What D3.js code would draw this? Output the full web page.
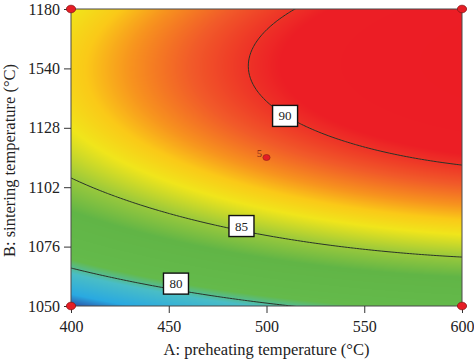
<!DOCTYPE html>
<html>
<head>
<meta charset="utf-8">
<script src="https://cdn.jsdelivr.net/npm/d3@7"></script>
<style>
  body { margin: 0; background: #fff; }
  svg { display: block; font-family: "Liberation Serif", "DejaVu Serif", serif; }
</style>
</head>
<body>
<svg id="chart" width="474" height="360"></svg>
<script>
// axis ranges and ticks (the 1540 label is as printed in the original)
const xDomain = [400, 600];
const yDomain = [1050, 1180];
const xTicks = [400, 450, 500, 550, 600];
const yTicks = [1050, 1076, 1102, 1128, 1154, 1180];
const yTickLabels = ['1050', '1076', '1102', '1128', '1540', '1180'];

// quadratic response model in coded units: [b0, A, B, AB, A^2, B^2]
const coef = [88.7, 2.275, 4.95, 0.235, -0.7, -4.0];
const centerA = 500, halfA = 100;
const centerB = 1115, halfB = 65;

const contourLevels = [80, 85, 90];
// label positions on the contour lines [A, B, level]
const contourLabels = [[453.7, 1059.8, 80], [487.2, 1085.0, 85], [509.5, 1133.2, 90]];
const designPoints = [[400, 1050], [600, 1050], [400, 1180], [600, 1180]];
const centerPoint = [500, 1115];
const centerReps = 5;

// colour ramp
const colorValues = [77, 78, 79.6, 80.6, 83.5, 85, 86.5, 87.4, 88.2, 89.2, 90.4, 93];
const colorRange = ['#2b4fa5', '#29a9e1', '#49bdc6', '#64ba4b', '#61b546', '#98c83c',
  '#f0e51b', '#fac918', '#f7931e', '#f15a29', '#ec1e25', '#ec1c24'];

const margin = { left: 71, top: 9, right: 12, bottom: 54 };
const W = 474, H = 360;
const pw = W - margin.left - margin.right; // 391
const ph = H - margin.top - margin.bottom; // 297

const x = d3.scaleLinear().domain(xDomain).range([0, pw]);
const y = d3.scaleLinear().domain(yDomain).range([ph, 0]);
const color = d3.scaleLinear().domain(colorValues).range(colorRange).clamp(true);

const model = (a, b) => {
  const cx = (a - centerA) / halfA, cy = (b - centerB) / halfB;
  return coef[0] + coef[1] * cx + coef[2] * cy + coef[3] * cx * cy
    + coef[4] * cx * cx + coef[5] * cy * cy;
};

const svg = d3.select('#chart');
const g = svg.append('g').attr('transform', `translate(${margin.left},${margin.top})`);

g.append('clipPath').attr('id', 'plot-clip')
  .append('rect').attr('width', pw).attr('height', ph);

// surface, painted per pixel onto a canvas
const canvas = document.createElement('canvas');
canvas.width = pw; canvas.height = ph;
const ctx = canvas.getContext('2d');
const img = ctx.createImageData(pw, ph);
for (let j = 0; j < ph; j++) {
  for (let i = 0; i < pw; i++) {
    const c = d3.rgb(color(model(x.invert(i + 0.5), y.invert(j + 0.5))));
    const k = (j * pw + i) * 4;
    img.data[k] = c.r; img.data[k + 1] = c.g; img.data[k + 2] = c.b; img.data[k + 3] = 255;
  }
}
ctx.putImageData(img, 0, 0);
g.append('image')
  .attr('width', pw).attr('height', ph)
  .attr('preserveAspectRatio', 'none')
  .attr('href', canvas.toDataURL());

// contour lines on a grid that runs a bit past the plot, then clipped
const nx = 160, ny = 120;
const a0 = 380, a1 = 620, b0 = 1190, b1 = 1040;
const dA = (a1 - a0) / (nx - 1), dB = (b1 - b0) / (ny - 1);
const grid = new Array(nx * ny);
for (let j = 0; j < ny; j++) {
  for (let i = 0; i < nx; i++) grid[j * nx + i] = model(a0 + i * dA, b0 + j * dB);
}
const contours = d3.contours().size([nx, ny]).thresholds(contourLevels)(grid);
const proj = d3.geoTransform({
  point(px, py) {
    this.stream.point(x(a0 + (px - 0.5) * dA), y(b0 + (py - 0.5) * dB));
  }
});
g.append('g').attr('clip-path', 'url(#plot-clip)')
  .selectAll('path')
  .data(contours)
  .join('path')
  .attr('d', d3.geoPath(proj))
  .attr('fill', 'none')
  .attr('stroke', '#2a3328')
  .attr('stroke-width', 1);

// frame
g.append('rect')
  .attr('width', pw).attr('height', ph)
  .attr('fill', 'none')
  .attr('stroke', '#4a4a4a')
  .attr('stroke-width', 1);

// contour labels
const lab = g.selectAll('.clab')
  .data(contourLabels)
  .join('g')
  .attr('class', 'clab')
  .attr('transform', d => `translate(${x(d[0])},${y(d[1])})`);
lab.append('rect')
  .attr('x', -12.5).attr('y', -10.5)
  .attr('width', 25).attr('height', 21)
  .attr('fill', '#fff')
  .attr('stroke', '#111')
  .attr('stroke-width', 1.4);
lab.append('text')
  .attr('text-anchor', 'middle')
  .attr('dy', '0.35em')
  .attr('font-size', 13)
  .attr('fill', '#222')
  .text(d => d[2]);

// axes
const yAxis = d3.axisLeft(y)
  .tickValues(yTicks)
  .tickFormat((d, i) => yTickLabels[i])
  .tickSize(7).tickSizeOuter(0).tickPadding(4);
const xAxis = d3.axisBottom(x)
  .tickValues(xTicks)
  .tickFormat(d3.format('d'))
  .tickSize(7).tickSizeOuter(0).tickPadding(8);

const ya = g.append('g').call(yAxis);
const xa = g.append('g').attr('transform', `translate(0,${ph})`).call(xAxis);
[ya, xa].forEach(a => {
  a.select('.domain').remove();
  a.selectAll('line').attr('stroke', '#333');
  a.selectAll('text')
    .attr('font-family', '"Liberation Serif", serif')
    .attr('font-size', 16)
    .attr('fill', '#222');
});

// design points
g.selectAll('.dp')
  .data(designPoints)
  .join('ellipse')
  .attr('class', 'dp')
  .attr('cx', d => x(d[0])).attr('cy', d => y(d[1]))
  .attr('rx', 4.6).attr('ry', 3.8)
  .attr('fill', '#e51d25')
  .attr('stroke', '#8a1818')
  .attr('stroke-width', 0.8);
g.append('ellipse')
  .attr('cx', x(centerPoint[0])).attr('cy', y(centerPoint[1]))
  .attr('rx', 3.6).attr('ry', 3)
  .attr('fill', '#e51d25')
  .attr('stroke', '#9a2218')
  .attr('stroke-width', 0.7);
g.append('text')
  .attr('x', x(centerPoint[0]) - 4.5).attr('y', y(centerPoint[1]) - 1)
  .attr('text-anchor', 'end')
  .attr('font-size', 10.5)
  .attr('fill', '#7a2a18')
  .text(centerReps);

// axis titles
svg.append('text')
  .attr('x', margin.left + pw / 2).attr('y', 355)
  .attr('text-anchor', 'middle')
  .attr('font-size', 16.5)
  .attr('fill', '#222')
  .text('A: preheating temperature (°C)');
svg.append('text')
  .attr('transform', `translate(15,${margin.top + ph / 2 + 3}) rotate(-90)`)
  .attr('text-anchor', 'middle')
  .attr('font-size', 16.5)
  .attr('fill', '#222')
  .text('B: sintering temperature (°C)');
</script>
</body>
</html>
